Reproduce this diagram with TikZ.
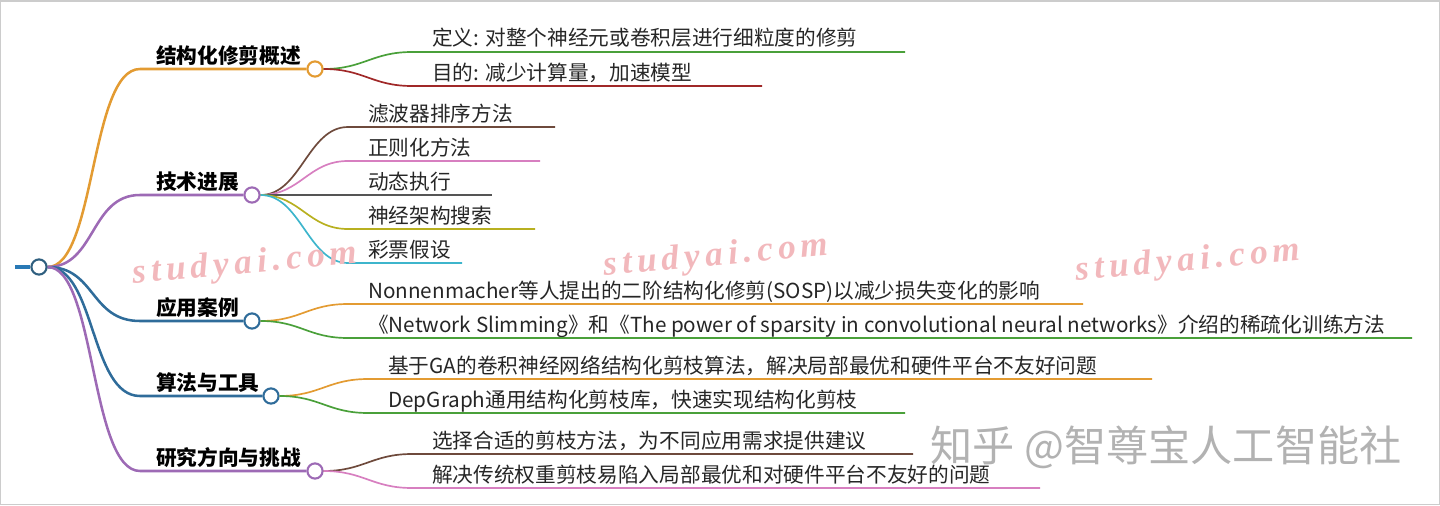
\documentclass[tikz,border=0pt]{standalone}
\usepackage{fontspec}
\setmainfont{Noto Sans CJK SC}
\newfontfamily\wmfont{Liberation Serif}[LetterSpace=15]
\usepackage{xcolor}
\usetikzlibrary{positioning,calc}

\definecolor{orgc}{HTML}{E39B32}
\definecolor{purc}{HTML}{9D6AB5}
\definecolor{bluc}{HTML}{2F6C9A}
\definecolor{rootc}{HTML}{2979B5}
\definecolor{rootd}{HTML}{2F5F7F}
\definecolor{lgreen}{HTML}{4AA03A}
\definecolor{dred}{HTML}{A02828}
\definecolor{lbrown}{HTML}{6E4A3C}
\definecolor{lpink}{HTML}{D77FC0}
\definecolor{dgray}{HTML}{555555}
\definecolor{olive}{HTML}{B8B020}
\definecolor{lcyan}{HTML}{3DB5CC}
\definecolor{wmpink}{HTML}{F2B8BC}

\begin{document}
\begin{tikzpicture}[x=0.025cm,y=-0.025cm,
	hub/.style={circle,draw,fill=white,line width=1.5pt,inner sep=0pt,minimum size=0.38cm},
	branch/.style={line width=1.8pt},
	twig/.style={line width=1.2pt},
	title/.style={anchor=base west,inner sep=0pt,font=\fontsize{14.7}{16}\selectfont\bfseries},
	leaf/.style={anchor=base west,inner sep=0pt,text=black!85,font=\fontsize{14.7}{16}\selectfont},
	wm/.style={rotate=5,text=wmpink,font=\wmfont\fontsize{25}{26}\selectfont\bfseries\itshape}]
		\useasboundingbox (0,0) rectangle (1440,506);
		\draw[black!20,line width=0.8pt] (0.5,1) rectangle (1439.5,504.5);
		% root
		\node[hub,draw=rootd] (root) at (39,267) {};
		\coordinate (stub) at (15,267);
		\draw[rootc,line width=3pt] (stub) -- (root.west);
		% main branches
		\foreach \n/\y/\hx/\cl/\tx in {1/69/315/orgc/结构化修剪概述, 2/195/252/purc/技术进展, 3/321/252/bluc/应用案例, 4/396/271/bluc/算法与工具, 5/471/315/purc/研究方向与挑战}{
			\node[hub,draw=\cl] (h\n) at (\hx,\y) {};
			\coordinate (k\n) at (140,\y);
			\node[title] (t\n) at (156,\y-6) {\tx};
			\draw[branch,\cl] (root.east) .. controls +(48,0) and +(-50,0) .. (k\n) -- (h\n);
		}
		% leaves
		\foreach \h/\ly/\sx/\ex/\cl/\lab [count=\i] in {
			1/52/412/905/lgreen/{定义: 对整个神经元或卷积层进行细粒度的修剪},
			1/86/412/762/dred/{目的: 减少计算量，加速模型},
			2/127/348/555/lbrown/{滤波器排序方法},
			2/161/348/540/lpink/{正则化方法},
			2/195/348/492/dgray/{动态执行},
			2/229/348/535/olive/{神经架构搜索},
			2/263/348/462/lcyan/{彩票假设},
			3/304/348/1083/orgc/{Nonnenmacher等人提出的二阶结构化修剪(SOSP)以减少损失变化的影响},
			3/338/348/1412/lgreen/{《Network Slimming》和《The power of sparsity in convolutional neural networks》介绍的稀疏化训练方法},
			4/379/368/1152/orgc/{基于GA的卷积神经网络结构化剪枝算法，解决局部最优和硬件平台不友好问题},
			4/413/368/905/lgreen/{DepGraph通用结构化剪枝库，快速实现结构化剪枝},
			5/454/412/913/lbrown/{选择合适的剪枝方法，为不同应用需求提供建议},
			5/488/412/1040/lpink/{解决传统权重剪枝易陷入局部最优和对硬件平台不友好的问题}}{
			\coordinate (s\i) at (\sx,\ly);
			\coordinate (e\i) at (\ex,\ly);
			\node[leaf] (l\i) at (\sx+20,\ly-6) {\lab};
			\draw[twig,\cl] (h\h.east) .. controls +(40,0) and +(-40,0) .. (s\i) -- (e\i);
		}
		% watermarks
		\foreach \wx/\wy [count=\j] in {245/265, 716/257, 1188/262}
		\node[wm] (w\j) at (\wx,\wy) {studyai.com};
		\node[text=black!30,font=\fontsize{30}{32}\selectfont] (zh) at (1166,447) {知乎 @智尊宝人工智能社};
	\end{tikzpicture}
\end{document}
